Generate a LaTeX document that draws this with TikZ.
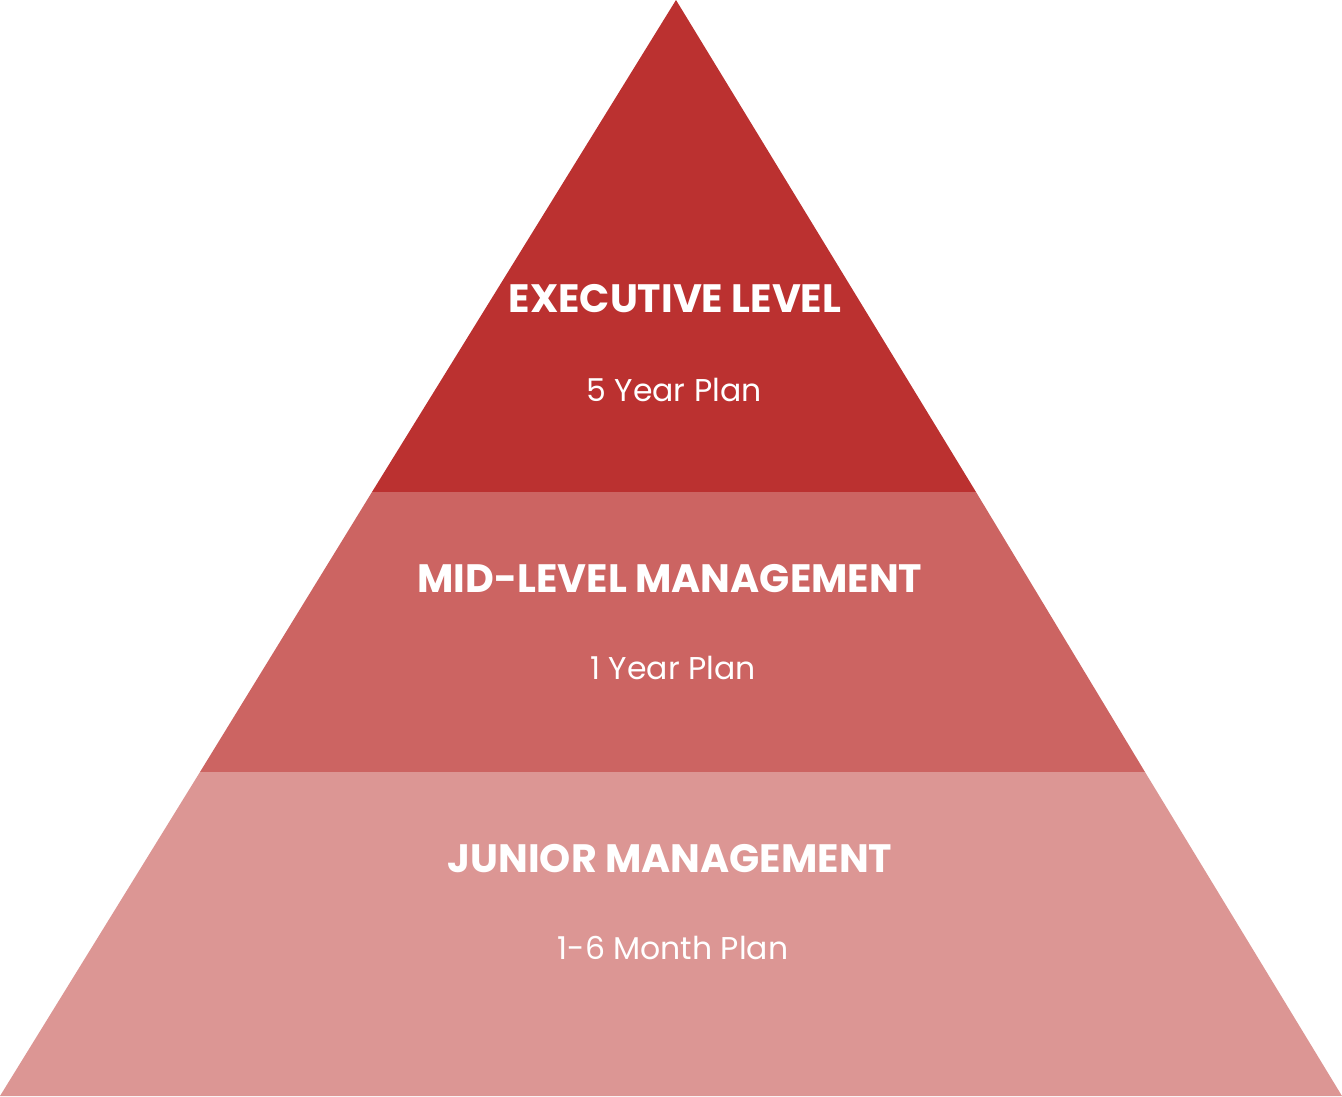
\documentclass[tikz,border=0pt]{standalone}
\usepackage{fontspec}
\setmainfont{Poppins}
\definecolor{topo}{RGB}{187,49,48}
\definecolor{meio}{RGB}{204,100,98}
\definecolor{base}{RGB}{220,150,148}
\begin{document}
\begin{tikzpicture}[
            x=1pt, y=-1pt,
            camada/.style={draw=none},
            titulo/.style={anchor=base, text=white, inner sep=0pt, font=\fontsize{39.6}{41}\selectfont\bfseries},
            plano/.style={anchor=base, text=white, inner sep=0pt, font=\fontsize{31.5}{33}\selectfont},
        ]
        \useasboundingbox (0, 0) rectangle (1342, 1096);

        \coordinate (ap) at (676, 0);
        \coordinate (e1) at (372, 492);
        \coordinate (d1) at (976, 492);
        \coordinate (e2) at (200, 772);
        \coordinate (d2) at (1145, 772);
        \coordinate (e3) at (0, 1096);
        \coordinate (d3) at (1342, 1096);

        \fill[camada, fill=topo] (ap) -- (d1) -- (e1) -- cycle;
        \fill[camada, fill=meio] (e1) -- (d1) -- (d2) -- (e2) -- cycle;
        \fill[camada, fill=base] (e2) -- (d2) -- (d3) -- (e3) -- cycle;

        \node[titulo] (t1) at (675, 312) {EXECUTIVE LEVEL};
        \node[plano] (p1) at (674, 401) {5 Year Plan};
        \node[titulo] (t2) at (670, 592) {MID-LEVEL MANAGEMENT};
        \node[plano] (p2) at (673, 679) {1 Year Plan};
        \node[titulo] (t3) at (670, 872) {JUNIOR MANAGEMENT};
        \node[plano] (p3) at (673, 959) {1-6 Month Plan};

    \end{tikzpicture}
\end{document}
